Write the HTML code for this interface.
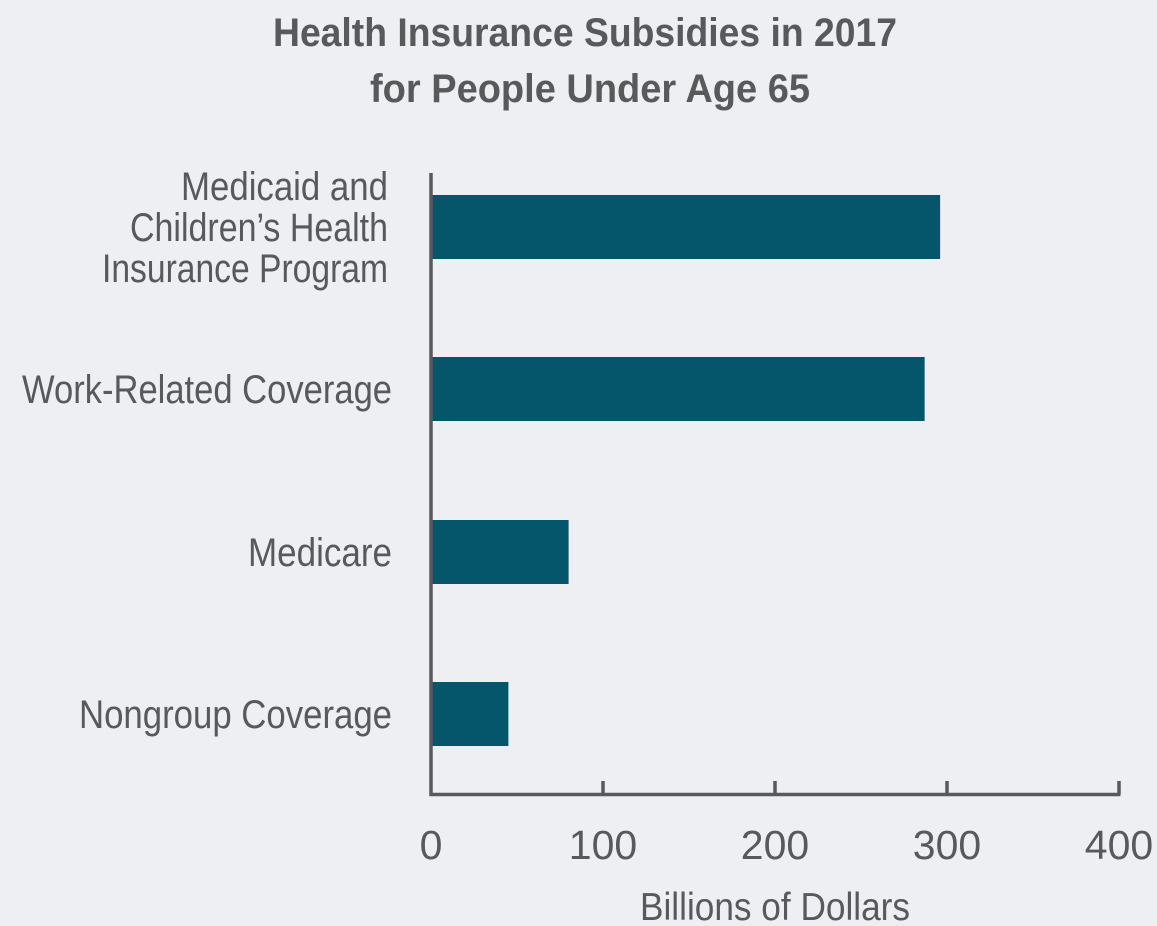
<!DOCTYPE html>
<html><head><meta charset="utf-8"><style>
html,body{margin:0;padding:0;background:#eeeff3;}
svg{display:block;}
text{font-family:"Liberation Sans Narrow","Liberation Sans",sans-serif;fill:#58595b;}
</style></head><body>
<svg id="chart" width="1157" height="926" viewBox="0 0 1157 926">
<rect width="1157" height="926" fill="#eeeff3"/>
<text x="585" y="46" text-anchor="middle" font-size="40" font-weight="bold" textLength="624" lengthAdjust="spacingAndGlyphs">Health Insurance Subsidies in 2017</text>
<text x="590" y="102" text-anchor="middle" font-size="40" font-weight="bold" textLength="440" lengthAdjust="spacingAndGlyphs">for People Under Age 65</text>
<g id="bars"></g>
<g id="axes"></g>
<text x="775" y="920" text-anchor="middle" font-size="39" textLength="270" lengthAdjust="spacingAndGlyphs">Billions of Dollars</text>
</svg>
<script>
const categories = [
  ["Medicaid and","Children’s Health","Insurance Program"],
  ["Work-Related Coverage"],
  ["Medicare"],
  ["Nongroup Coverage"]
];
const values = [296, 287, 80, 45];
const ticks = [0, 100, 200, 300, 400];
const tickLabels = ["0","100","200","300","400"];

const NS = "http://www.w3.org/2000/svg";
const x0 = 431, x1 = 1119, xMax = 400;
const xs = v => x0 + (v / xMax) * (x1 - x0);
const rowCenters = [227, 389, 552, 714];
const barH = 64;
const bars = document.getElementById('bars');
const axes = document.getElementById('axes');
function mk(tag, attrs, parent){const e=document.createElementNS(NS,tag);for(const k in attrs)e.setAttribute(k,attrs[k]);parent.appendChild(e);return e;}
const labelWidths = {"Medicaid and":207,"Children’s Health":258,"Insurance Program":286,"Work-Related Coverage":370,"Medicare":144,"Nongroup Coverage":313};
values.forEach((v,i)=>{
  const r = mk('rect',{x:x0,y:rowCenters[i]-barH/2,width:xs(v)-x0,height:barH,fill:'#06566b'},bars);
  
  
  const lines = categories[i];
  const n = lines.length;
  lines.forEach((ln,j)=>{
    const y = rowCenters[i] + 14 + (j - (n-1)/2) * 41;
    const t = mk('text',{x: n>1?388:392, y:y, 'text-anchor':'end','font-size':40},bars);
    if(labelWidths[ln]){t.setAttribute('textLength',labelWidths[ln]);t.setAttribute('lengthAdjust','spacingAndGlyphs');}
    t.textContent = ln;
    
    
  });
});
const yAxis = mk('line',{x1:x0,y1:173,x2:x0,y2:796,stroke:'#58595b','stroke-width':3.5},axes);


const xAxis = mk('line',{x1:x0-1.5,y1:794.5,x2:x1+1.5,y2:794.5,stroke:'#58595b','stroke-width':3.5},axes);


ticks.forEach((t,i)=>{
  const x = xs(t);
  if(t>0){
    const tk = mk('line',{x1:x,y1:781,x2:x,y2:794,stroke:'#58595b','stroke-width':3.5},axes);
    
    
  }
  const lb = mk('text',{x:x,y:859,'text-anchor':'middle','font-size':41},axes);
  lb.textContent = tickLabels[i];
  
  
});
</script>
</body></html>
